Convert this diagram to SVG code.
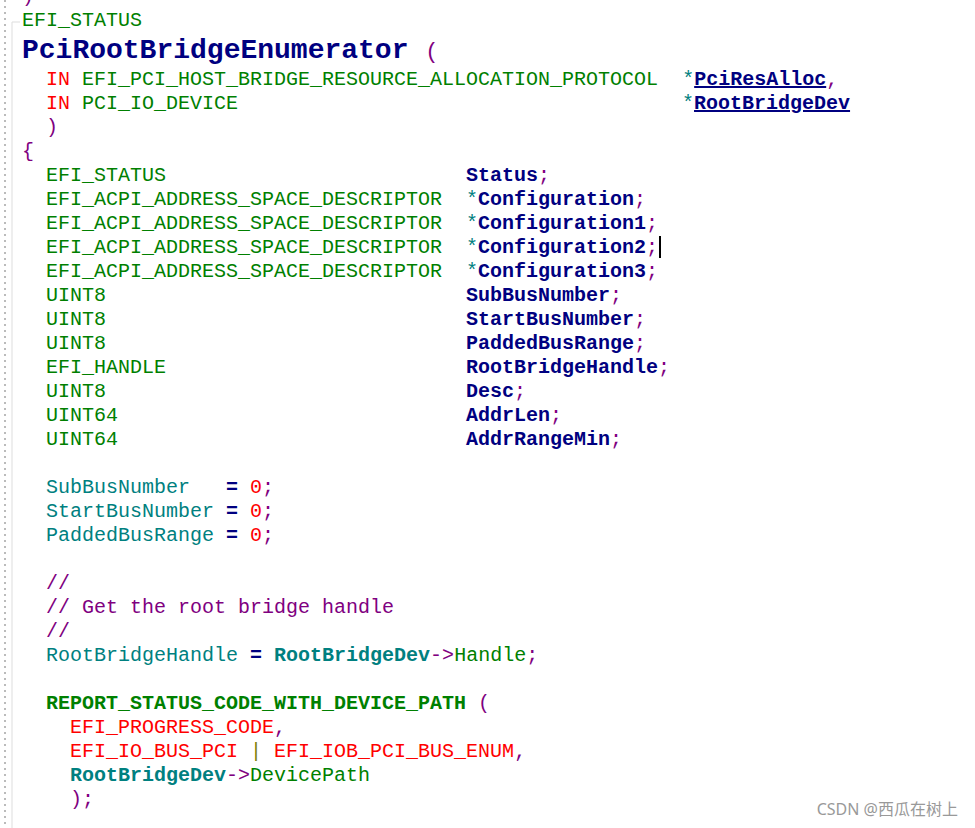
<svg xmlns="http://www.w3.org/2000/svg" width="975" height="828" viewBox="0 0 975 828">
<style>
text{font-family:"Liberation Mono","DejaVu Sans Mono",monospace;font-size:20px;white-space:pre}
.g{fill:#008000}.n{fill:#000080;font-weight:bold}.t{fill:#008080}.tb{fill:#008080;font-weight:bold}
.r{fill:#ff0000}.p{fill:#800080}.gb{fill:#008000;font-weight:bold}.u{text-decoration:underline}
</style>
<rect width="975" height="828" fill="#fff"/>
<line x1="5" y1="0" x2="5" y2="828" stroke="#bbb" stroke-width="2" stroke-dasharray="2,4"/>
<line x1="12" y1="22" x2="12" y2="828" stroke="#ddd" stroke-width="1"/>
<line x1="12" y1="22" x2="20" y2="22" stroke="#ddd" stroke-width="1"/>
<text x="22" y="2" class="p">)</text>
<text x="22" y="26" class="g">EFI_STATUS</text>
<text x="22" y="58" style="font-size:28px" class="n">PciRootBridgeEnumerator <tspan class="p" style="font-weight:normal;font-size:22px">(</tspan></text>
<text x="46" y="85"><tspan class="r">IN</tspan> <tspan class="g">EFI_PCI_HOST_BRIDGE_RESOURCE_ALLOCATION_PROTOCOL</tspan>  <tspan class="t">*</tspan><tspan class="n u">PciResAlloc</tspan><tspan class="p">,</tspan></text>
<text x="46" y="109"><tspan class="r">IN</tspan> <tspan class="g">PCI_IO_DEVICE</tspan></text>
<text x="682" y="109"><tspan class="t">*</tspan><tspan class="n u">RootBridgeDev</tspan></text>
<text x="46" y="133" class="p">)</text>
<text x="22" y="157" class="p">{</text>
<g>
<text x="46" y="181" class="g">EFI_STATUS</text><text x="466" y="181"><tspan class="n">Status</tspan><tspan class="p">;</tspan></text>
<text x="46" y="205" class="g">EFI_ACPI_ADDRESS_SPACE_DESCRIPTOR</text><text x="466" y="205"><tspan class="t">*</tspan><tspan class="n">Configuration</tspan><tspan class="p">;</tspan></text>
<text x="46" y="229" class="g">EFI_ACPI_ADDRESS_SPACE_DESCRIPTOR</text><text x="466" y="229"><tspan class="t">*</tspan><tspan class="n">Configuration1</tspan><tspan class="p">;</tspan></text>
<text x="46" y="253" class="g">EFI_ACPI_ADDRESS_SPACE_DESCRIPTOR</text><text x="466" y="253"><tspan class="t">*</tspan><tspan class="n">Configuration2</tspan><tspan class="p">;</tspan></text>
<line x1="660" y1="236" x2="660" y2="258" stroke="#000" stroke-width="2"/>
<text x="46" y="277" class="g">EFI_ACPI_ADDRESS_SPACE_DESCRIPTOR</text><text x="466" y="277"><tspan class="t">*</tspan><tspan class="n">Configuration3</tspan><tspan class="p">;</tspan></text>
<text x="46" y="301" class="g">UINT8</text><text x="466" y="301"><tspan class="n">SubBusNumber</tspan><tspan class="p">;</tspan></text>
<text x="46" y="325" class="g">UINT8</text><text x="466" y="325"><tspan class="n">StartBusNumber</tspan><tspan class="p">;</tspan></text>
<text x="46" y="349" class="g">UINT8</text><text x="466" y="349"><tspan class="n">PaddedBusRange</tspan><tspan class="p">;</tspan></text>
<text x="46" y="373" class="g">EFI_HANDLE</text><text x="466" y="373"><tspan class="n">RootBridgeHandle</tspan><tspan class="p">;</tspan></text>
<text x="46" y="397" class="g">UINT8</text><text x="466" y="397"><tspan class="n">Desc</tspan><tspan class="p">;</tspan></text>
<text x="46" y="421" class="g">UINT64</text><text x="466" y="421"><tspan class="n">AddrLen</tspan><tspan class="p">;</tspan></text>
<text x="46" y="445" class="g">UINT64</text><text x="466" y="445"><tspan class="n">AddrRangeMin</tspan><tspan class="p">;</tspan></text>
</g>
<text x="46" y="493"><tspan class="t">SubBusNumber   </tspan><tspan class="n">=</tspan> <tspan class="r">0</tspan><tspan class="p">;</tspan></text>
<text x="46" y="517"><tspan class="t">StartBusNumber </tspan><tspan class="n">=</tspan> <tspan class="r">0</tspan><tspan class="p">;</tspan></text>
<text x="46" y="541"><tspan class="t">PaddedBusRange </tspan><tspan class="n">=</tspan> <tspan class="r">0</tspan><tspan class="p">;</tspan></text>
<text x="46" y="589" class="p">//</text>
<text x="46" y="613" class="p">// Get the root bridge handle</text>
<text x="46" y="637" class="p">//</text>
<text x="46" y="661"><tspan class="t">RootBridgeHandle </tspan><tspan class="n">=</tspan> <tspan class="tb">RootBridgeDev</tspan><tspan class="p">-&gt;</tspan><tspan class="g">Handle</tspan><tspan class="p">;</tspan></text>
<text x="46" y="709"><tspan class="gb">REPORT_STATUS_CODE_WITH_DEVICE_PATH</tspan> <tspan class="p">(</tspan></text>
<text x="70" y="733"><tspan class="r">EFI_PROGRESS_CODE</tspan><tspan class="p">,</tspan></text>
<text x="70" y="757"><tspan class="r">EFI_IO_BUS_PCI</tspan> <tspan style="fill:#808000">|</tspan> <tspan class="r">EFI_IOB_PCI_BUS_ENUM</tspan><tspan class="p">,</tspan></text>
<text x="70" y="781"><tspan class="tb">RootBridgeDev</tspan><tspan class="p">-&gt;</tspan><tspan class="g">DevicePath</tspan></text>
<text x="70" y="805" class="p">);</text>
<text x="958" y="815" text-anchor="end" style="font-family:'Noto Sans','Noto Sans CJK SC',sans-serif;font-size:16px;fill:#999">CSDN @西瓜在树上</text>
</svg>
